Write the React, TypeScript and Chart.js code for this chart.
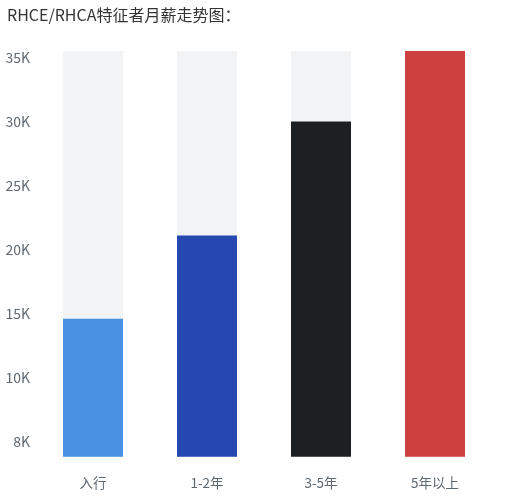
import React, { useEffect, useRef } from 'react';
import { Chart, registerables } from 'chart.js';

Chart.register(...registerables);

// salary levels, read on the chart's own scale (K)
const categories = ['入行', '1-2年', '3-5年', '5年以上'];
const salaries = [14.6, 21.1, 30, 35.5];
const ceiling = [35.5, 35.5, 35.5, 35.5];
const barColors = ['#4a90e2', '#2447b0', '#1d2023', '#cd4040'];
const tickValues = [5, 10, 15, 20, 25, 30, 35];
const tickLabels = ['8K', '10K', '15K', '20K', '25K', '30K', '35K'];

const FONT = '"Noto Sans CJK SC", "Noto Sans", sans-serif';

const SalaryChart: React.FC = () => {
  const canvasRef = useRef<HTMLCanvasElement>(null);

  useEffect(() => {
    document.body.style.margin = '0';
    if (!canvasRef.current) return;
    const ctx = canvasRef.current.getContext('2d');
    if (!ctx) return;

    const chart = new Chart(ctx, {
      type: 'bar',
      data: {
        labels: categories,
        datasets: [
          {
            data: salaries,
            backgroundColor: barColors,
            grouped: false,
            barPercentage: 1,
            categoryPercentage: 60 / 114,
          },
          {
            data: ceiling,
            backgroundColor: '#f2f3f5',
            grouped: false,
            barPercentage: 1,
            categoryPercentage: 60 / 114,
          },
        ],
      },
      options: {
        responsive: false,
        animation: false,
        layout: { padding: { top: 51, right: 27, left: 0, bottom: 0 } },
        plugins: {
          legend: { display: false },
          tooltip: { enabled: false },
        },
        scales: {
          x: {
            grid: { display: false, drawTicks: false },
            border: { display: false },
            ticks: {
              padding: 18,
              color: '#5d6770',
              font: { family: FONT, size: 13.5 },
            },
            afterFit: (scale: any) => {
              scale.height = 39.3;
            },
          },
          y: {
            min: 3.83,
            max: 35.5,
            grid: { display: false, drawTicks: false },
            border: { display: false },
            afterBuildTicks: (scale: any) => {
              scale.ticks = tickValues.map(v => ({ value: v }));
            },
            afterFit: (scale: any) => {
              scale.width = 36;
            },
            ticks: {
              padding: 6,
              color: '#5d6770',
              font: { family: FONT, size: 14 },
              callback: (value: any) => tickLabels[tickValues.indexOf(Number(value))],
            },
          },
        },
      },
    });

    return () => {
      chart.destroy();
    };
  }, []);

  return (
    <div style={{ position: 'relative', width: 519, height: 496 }}>
      <div
        style={{
          position: 'absolute',
          left: 7,
          top: 4,
          fontFamily: FONT,
          fontSize: 16,
          lineHeight: '20px',
          color: '#333',
        }}
      >
        RHCE/RHCA特征者月薪走势图：
      </div>
      <canvas ref={canvasRef} width={519} height={496} />
    </div>
  );
};

export default function App() {
  return <SalaryChart />;
}
